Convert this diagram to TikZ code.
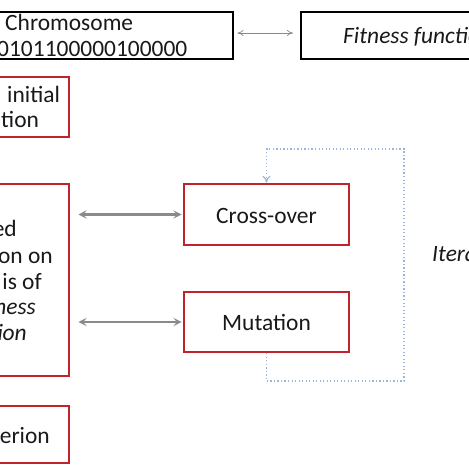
\documentclass[tikz,border=0pt]{standalone}
\usepackage{fontspec}
\setmainfont{Carlito}
\usepackage{tikz}
\usetikzlibrary{arrows.meta,positioning,calc}
\definecolor{GaRed}{HTML}{C0232C}
\definecolor{GaBlue}{HTML}{9DB5D6}
\definecolor{GaGrey}{HTML}{8A8A8A}

\begin{document}
\begin{tikzpicture}[x=0.03cm, y=-0.03cm,
  blackbox/.style={draw=black, line width=1.7pt, fill=white, inner sep=0pt},
  redbox/.style={draw=GaRed, line width=2.2pt, fill=white, inner sep=0pt},
  txt/.style={inner sep=0pt, font=\fontsize{20}{22}\selectfont, text=black!90},
  thinarrow/.style={{To[length=5pt,width=5pt]}-{To[length=5pt,width=5pt]}, GaGrey, line width=0.6pt},
  greyarrow/.style={{Stealth[length=7pt,width=7pt,inset=3pt]}-{Stealth[length=7pt,width=7pt,inset=3pt]}, GaGrey, line width=1.8pt},
  iterline/.style={-{To[length=6pt,width=7pt]}, GaBlue, line width=1pt, dotted}]
% Frame of the cut-out
\useasboundingbox (0,0) rectangle (469,469);
\clip (0,0) rectangle (469,469);

% Top row: chromosome and fitness function
\node[blackbox, minimum width=7.59cm, minimum height=1.41cm] (chromo) at (106.5,35.5) {};
\node[blackbox, minimum width=6.57cm, minimum height=1.41cm] (fit) at (410.5,35.5) {};
\node[txt, anchor=base west] (chromoA) at (5,30) {Chromosome};
\node[txt, anchor=base west] (chromoB) at (-3,56) {0101100000100000};
\node[txt, anchor=base west, font=\fontsize{20}{22}\selectfont\itshape] (fitA) at (343,43) {Fitness function};

% Left column (red boxes)
\node[redbox, minimum width=3.27cm, minimum height=1.8cm] (init) at (14.5,107) {};
\node[txt, anchor=base west] (initA) at (7,102) {initial};
\node[txt, anchor=base west] (initB) at (1,127) {tion};

\node[redbox, minimum width=3.27cm, minimum height=5.76cm] (sel) at (14.5,280) {};
\node[txt, anchor=base east] (selA) at (17,236) {ed};
\node[txt, anchor=base east] (selB) at (53,263) {on on};
\node[txt, anchor=base east] (selC) at (42,289) {is of};
\node[txt, anchor=base east, font=\fontsize{20}{22}\selectfont\itshape] (selD) at (36,314) {ness};
\node[txt, anchor=base east, font=\fontsize{20}{22}\selectfont\itshape] (selE) at (27,340) {tion};

\node[redbox, minimum width=3.27cm, minimum height=1.71cm] (crit) at (14.5,434.5) {};
\node[txt, anchor=base east] (critA) at (50,443) {erion};

% Genetic operators
\node[redbox, minimum width=4.95cm, minimum height=1.83cm] (cross) at (266.5,214.5) {};
\node[txt, anchor=base] (crossA) at (266.5,223) {Cross-over};
\node[redbox, minimum width=4.95cm, minimum height=1.8cm] (mut) at (266.5,322) {};
\node[txt, anchor=base] (mutA) at (266.5,330) {Mutation};

% Iteration loop
\coordinate (loopbr) at (404,381);
\coordinate (looptr) at (404,149);
\node[txt, anchor=base west, font=\fontsize{20}{22}\selectfont\itshape] (iter) at (432,261) {Itera};

% Connectors
\draw[thinarrow, shorten <=3pt, shorten >=6pt] (chromo.east |- 0,33) -- (fit.west |- 0,33);
\draw[greyarrow, shorten <=7pt, shorten >=1pt] (sel.east |- cross.west) -- (cross.west);
\draw[greyarrow, shorten <=7pt, shorten >=1pt] (sel.east |- mut.west) -- (mut.west);
\draw[iterline] (mut.south) |- (loopbr) -- (looptr) -| (cross.north);
\end{tikzpicture}
\end{document}
